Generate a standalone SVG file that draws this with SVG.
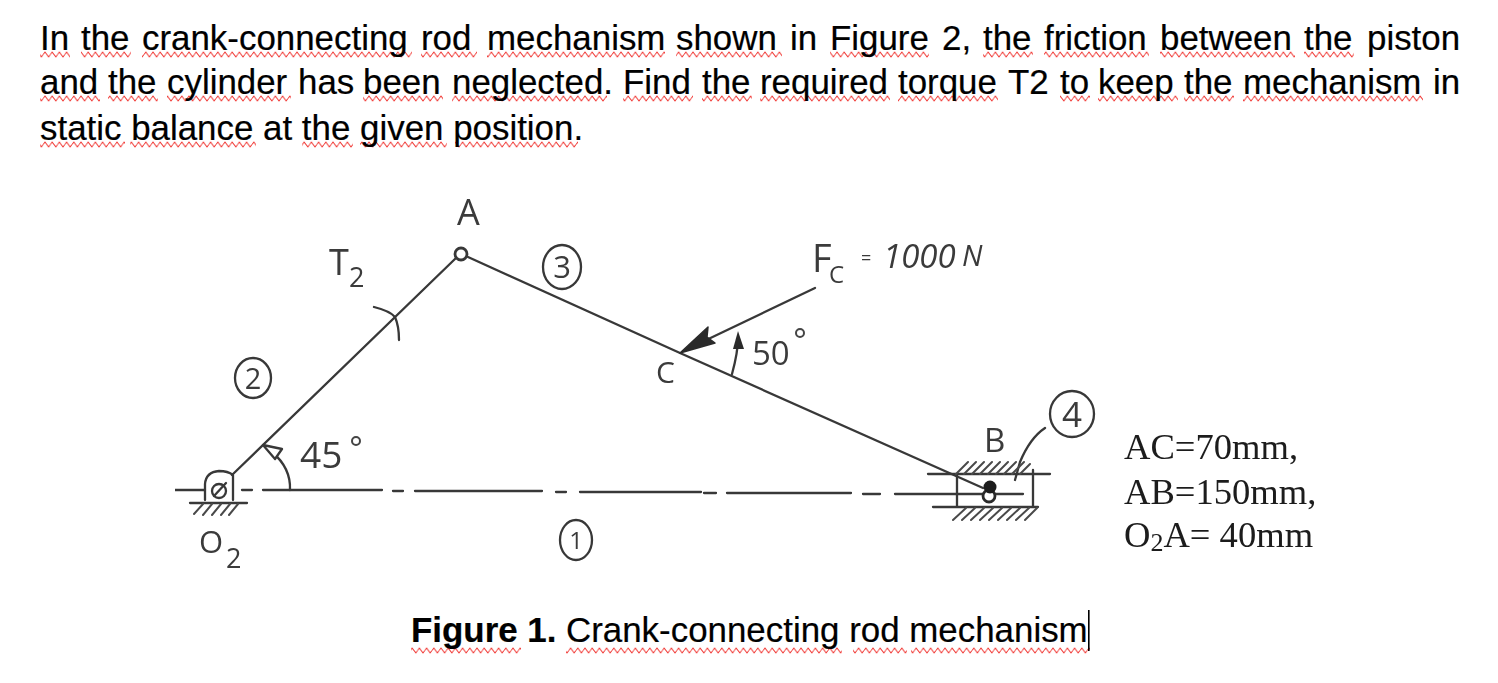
<svg xmlns="http://www.w3.org/2000/svg" width="1498" height="683" viewBox="0 0 1498 683">
<style>
.t{font-family:"Liberation Sans",Arial,sans-serif;font-size:34.9px;fill:#000;stroke:#000;stroke-width:.2}
.c{font-family:"Liberation Sans",Arial,sans-serif;font-size:34.9px;fill:#000;stroke:#000;stroke-width:.2}
.r{font-family:"Liberation Serif","Times New Roman",serif;font-size:36.6px;fill:#1c1c1c}
.h{font-family:"Open Sans","Liberation Sans",sans-serif;fill:#3a3a3a;font-weight:400}
.l{fill:none;stroke:#383838;stroke-width:2.3;stroke-linecap:round;stroke-linejoin:round}
.m{fill:none;stroke:#4a4a4a;stroke-width:2;stroke-linecap:round}
.w{fill:url(#wave)}
</style>
<defs>
<pattern id="wave" patternUnits="userSpaceOnUse" width="7.2" height="7">
<path d="M0 3.5 L1.8 1 L3.6 3.5 L5.4 6 L7.2 3.5" fill="none" stroke="#f0302c" stroke-width="1"/>
</pattern>
<filter id="soft" x="0" y="0" width="100%" height="100%"><feGaussianBlur stdDeviation="0.45"/></filter>
</defs>
<rect width="1498" height="683" fill="#fff"/>

<g id="problem-underlines">
<g transform="translate(0,51)">
<rect class="w" x="40" width="30" height="7"/><rect class="w" x="81" width="50" height="7"/><rect class="w" x="142" width="270" height="7"/><rect class="w" x="421" width="56" height="7"/><rect class="w" x="487" width="178" height="7"/><rect class="w" x="676" width="106" height="7"/><rect class="w" x="830" width="99" height="7"/><rect class="w" x="983" width="50" height="7"/><rect class="w" x="1044" width="105" height="7"/><rect class="w" x="1160" width="135" height="7"/><rect class="w" x="1304" width="50" height="7"/>
</g>
<g transform="translate(0,95)">
<rect class="w" x="40" width="60" height="7"/><rect class="w" x="108" width="50" height="7"/><rect class="w" x="167" width="124" height="7"/><rect class="w" x="363" width="80" height="7"/><rect class="w" x="452" width="155" height="7"/><rect class="w" x="623" width="70" height="7"/><rect class="w" x="702" width="50" height="7"/><rect class="w" x="760" width="130" height="7"/><rect class="w" x="898" width="100" height="7"/><rect class="w" x="1060" width="30" height="7"/><rect class="w" x="1098" width="80" height="7"/><rect class="w" x="1184" width="50" height="7"/><rect class="w" x="1243" width="180" height="7"/>
</g>
<g transform="translate(0,141)">
<rect class="w" x="40" width="85" height="7"/><rect class="w" x="130" width="126" height="7"/><rect class="w" x="302" width="51" height="7"/><rect class="w" x="360" width="87" height="7"/><rect class="w" x="455" width="123" height="7"/>
</g>
<g transform="translate(0,647)">
<rect class="w" x="411" width="110" height="7"/><rect class="w" x="566" width="276" height="7"/><rect class="w" x="853" width="54" height="7"/><rect class="w" x="911" width="179" height="7"/>
</g>
</g>

<g id="problem-text">
<text class="t" y="50"><tspan x="40">In</tspan> <tspan x="81">the</tspan> <tspan x="142">crank-connecting</tspan> <tspan x="421">rod</tspan> <tspan x="487">mechanism</tspan> <tspan x="676">shown</tspan> <tspan x="790">in</tspan> <tspan x="830">Figure</tspan> <tspan x="942">2,</tspan> <tspan x="983">the</tspan> <tspan x="1044">friction</tspan> <tspan x="1160">between</tspan> <tspan x="1304">the</tspan> <tspan x="1367">piston</tspan></text>
<text class="t" y="94"><tspan x="40">and</tspan> <tspan x="108">the</tspan> <tspan x="167">cylinder</tspan> <tspan x="298">has</tspan> <tspan x="363">been</tspan> <tspan x="452">neglected.</tspan> <tspan x="623">Find</tspan> <tspan x="702">the</tspan> <tspan x="760">required</tspan> <tspan x="898">torque</tspan> <tspan x="1008">T2</tspan> <tspan x="1060">to</tspan> <tspan x="1098">keep</tspan> <tspan x="1184">the</tspan> <tspan x="1243">mechanism</tspan> <tspan x="1433">in</tspan></text>
<text class="t" x="40" y="139.5">static balance at the given position.</text>
</g>

<g id="mechanism" filter="url(#soft)">
<g id="connectors">
<path id="link-2" class="l" d="M232 475 L456 258"/>
<path id="link-3" class="l" d="M468 257 L680 353 L983 488"/>
<g id="centre-line">
<path class="l" d="M175 490 H205 M242 490 H252 M263 490 H382 M393 491 H403 M415 491 H542 M556 492 H566 M580 492 H701 M704 493 H716 M727 493 H851 M863 494 H880 M895 494 H1023"/>
</g>
<path id="force-Fc" class="l" d="M815 288 L700 343"/>
<path id="force-head" d="M680 353 L708 327 L707 337 L715 343 Z" fill="#2c2c2c" stroke="#2c2c2c" stroke-width="1.5" stroke-linejoin="round"/>
<path id="arc-50" class="l" d="M732 374 Q738 352 738 338"/>
<path d="M738 331 L733 349 L744 349 Z" fill="#2c2c2c"/>
<path id="arc-45" class="l" d="M290 490 Q291 468 272 452"/>
<path d="M263 445 L282 449 L275 459 Z" fill="#fff" stroke="#383838" stroke-width="2.3" stroke-linejoin="round"/>
<path id="torque-T2" class="l" d="M374 307 Q390 311 395 317 Q399 326 399 340"/>
<path id="leader-4" class="l" d="M1045 428 Q1030 438 1020 462 L1015 480"/>
</g>

<g id="node-O2">
<path class="l" d="M205 500 V484 Q206 472 219 471 Q228 471 233 475 V500 M190 503 H247"/>
<circle class="l" cx="219" cy="491" r="7"/>
<path class="l" d="M214 496 L226 483"/>
<path class="m" d="M194 514 L203 504 M203 515 L212 504 M212 515 L221 504 M221 515 L230 504 M229 515 L238 504"/>
<text class="h" font-size="31" x="199" y="553">O</text>
<text class="h" font-size="27" x="226" y="568">2</text>
</g>

<g id="node-A">
<circle cx="461" cy="254" r="6" fill="#fff" stroke="#383838" stroke-width="2.8"/>
<text class="h" font-size="36" x="457" y="225">A</text>
</g>

<g id="node-C">
<text class="h" font-size="30" x="656" y="383">C</text>
</g>

<g id="node-B">
<text class="h" font-size="33" x="984" y="452">B</text>
<path class="l" d="M928 474 H1050 M933 507 H1038 M957 474 V507 M1033 470 V507"/>
<path class="m" d="M956 474 L968 462 M964 474 L976 462 M972 474 L984 462 M980 474 L992 462 M988 474 L1000 462 M996 474 L1008 462 M1004 474 L1016 462 M1012 474 L1024 462 M1020 474 L1030 464"/>
<path class="m" d="M953 520 L966 508 M962 520 L975 508 M971 520 L984 508 M980 520 L993 508 M989 520 L1002 508 M998 520 L1011 508 M1007 520 L1020 508 M1016 520 L1029 508 M1025 520 L1037 508"/>
<circle cx="989" cy="496" r="6" fill="#fff" stroke="#2c2c2c" stroke-width="2.8"/>
<circle cx="990" cy="487" r="6.5" fill="#1c1c1c"/>
</g>

<g id="labels">
<text class="h" font-size="36" x="329" y="275">T</text>
<text class="h" font-size="27" x="349" y="287">2</text>
<text class="h" font-size="37" x="300" y="468">45</text>
<circle cx="356" cy="441" r="4" fill="none" stroke="#444" stroke-width="2"/>
<text class="h" font-size="33" x="752" y="365">50</text>
<circle cx="800" cy="333" r="4" fill="none" stroke="#444" stroke-width="2"/>
<text class="h" font-size="38" x="812" y="272">F</text>
<text class="h" font-size="24" x="829" y="283">C</text>
<text class="h" font-size="18" x="861" y="264">=</text>
<text class="h" font-size="33" font-style="italic" x="883" y="268">1000<tspan x="962" y="266" font-size="29">N</tspan></text>
</g>

<g id="link-numbers">
<g id="num-1"><ellipse class="l" cx="576" cy="540" rx="16" ry="20"/><text class="h" font-size="24" text-anchor="middle" x="576" y="549">1</text></g>
<g id="num-2"><ellipse class="l" cx="253" cy="378" rx="18" ry="20"/><text class="h" font-size="29" text-anchor="middle" x="253" y="389">2</text></g>
<g id="num-3"><ellipse class="l" cx="562" cy="267" rx="19" ry="22"/><text class="h" font-size="31" text-anchor="middle" x="562" y="278">3</text></g>
<g id="num-4"><ellipse class="l" cx="1072" cy="414" rx="22" ry="23"/><text class="h" font-size="35" text-anchor="middle" x="1072" y="427">4</text></g>
</g>

<g id="dimensions">
<text class="r" x="1124" y="459">AC=70mm,</text>
<text class="r" x="1124" y="504">AB=150mm,</text>
<text class="r" x="1124" y="547">O<tspan font-size="26" dy="4">2</tspan><tspan dy="-4">A= 40mm</tspan></text>
</g>
</g>

<g id="caption">
<text class="c" y="642"><tspan x="411" font-weight="bold">Figure 1.</tspan> <tspan x="566">Crank-connecting rod mechanism</tspan></text>
<rect x="1088" y="610" width="1.6" height="41" fill="#000"/>
</g>
</svg>
